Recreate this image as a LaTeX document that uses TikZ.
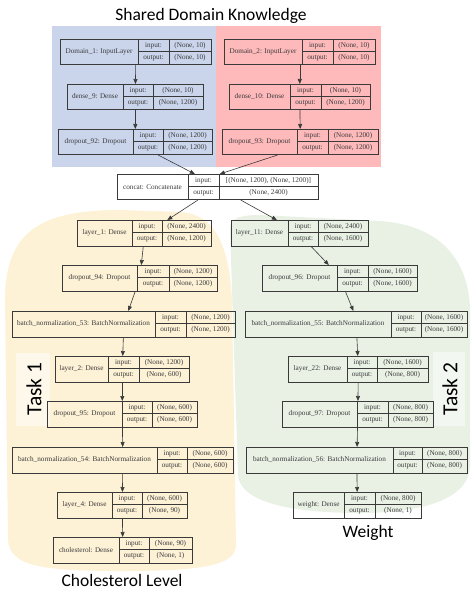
\documentclass[tikz,border=0pt]{standalone}
\usepackage{fontspec}
\setmainfont{Liberation Serif}
\newfontfamily\calib{Carlito}
\usetikzlibrary{arrows.meta}
\definecolor{ink}{HTML}{3A3A3A}
\definecolor{shblue}{HTML}{CAD5EC}
\definecolor{shred}{HTML}{FEB9BB}
\definecolor{tkyel}{HTML}{FDF1D6}
\definecolor{tkyel2}{HTML}{FEF8EB}
\definecolor{tkgrn}{HTML}{E9F1E5}
\definecolor{tkgrn2}{HTML}{F3F7F1}
\tikzset{
  rec/.style={draw=ink,line width=.6pt,minimum height=25.5pt,inner sep=0pt},
  sep/.style={draw=ink,line width=.6pt},
  cell/.style={font=\fontsize{7.2}{8}\selectfont,text=ink,inner sep=0pt},
  ar/.style={-{Triangle[length=5pt,width=4pt]},draw=ink,line width=.6pt},
  lbl/.style={font=\calib\fontsize{17.5}{20}\selectfont,text=black},
  task/.style={font=\calib\fontsize{21.5}{24}\selectfont,text=black,rotate=90},
}
% one keras layer record: id, left, split 1, split 2, right, top, name, input, output
\newcommand{\layerrec}[9]{%
  \node[rec,minimum width={(#5-#2)*1pt},anchor=north west] (#1) at (#2,#6) {};
  \draw[sep] (#3,#6) -- ++(0,25.5) (#4,#6) -- ++(0,25.5) (#3,#6+12.75) -- (#5,#6+12.75);
  \node[cell] (#1-n) at ({(#2+#3)/2},#6+12.75) {#7};
  \node[cell] (#1-i) at ({(#3+#4)/2},#6+6.4) {input:};
  \node[cell] (#1-o) at ({(#3+#4)/2},#6+19.1) {output:};
  \node[cell] (#1-iv) at ({(#4+#5)/2},#6+6.4) {#8};
  \node[cell] (#1-ov) at ({(#4+#5)/2},#6+19.1) {#9};
}

\begin{document}
\begin{tikzpicture}[x=1pt,y=-1pt]
  \useasboundingbox (0,0) rectangle (474,601);
  % shaded regions
  \fill[shblue] (52,26) rectangle (216,167);
  \fill[shred] (216,26) rectangle (381,167);
  \fill[tkyel] (5,300) .. controls (5,232) and (40,210) .. (120,210) -- (180,212)
    .. controls (215,214) and (229,245) .. (232,300) -- (236,545)
    .. controls (236,566) and (200,571) .. (122,571)
    .. controls (40,571) and (10,566) .. (8,540) -- cycle;
  \fill[tkgrn] (230,228) .. controls (231,218) and (240,215) .. (260,215) -- (380,221)
    .. controls (440,225) and (469,260) .. (470,310) -- (470,465)
    .. controls (470,500) and (420,513) .. (360,513)
    .. controls (290,513) and (240,502) .. (238,475) -- cycle;
  \fill[tkyel2] (16,353) rectangle (50,426);
  \fill[tkgrn2] (433,352) rectangle (465,426);

  % shared part
  \layerrec{d1}{60}{138}{169}{211}{39}{Domain\_1: InputLayer}{(None, 10)}{(None, 10)}
  \layerrec{dn9}{67}{123}{153}{203}{84}{dense\_9: Dense}{(None, 10)}{(None, 1200)}
  \layerrec{dp92}{58}{133}{163}{212}{129}{dropout\_92: Dropout}{(None, 1200)}{(None, 1200)}
  \layerrec{d2}{224}{302}{333}{375}{39}{Domain\_2: InputLayer}{(None, 10)}{(None, 10)}
  \layerrec{dn10}{229}{290}{321}{370}{84}{dense\_10: Dense}{(None, 10)}{(None, 1200)}
  \layerrec{dp93}{222}{297}{328}{378}{129}{dropout\_93: Dropout}{(None, 1200)}{(None, 1200)}
  \layerrec{cat}{117}{188}{219}{318}{174}{concat: Concatenate}{[(None, 1200), (None, 1200)]}{(None, 2400)}

  % task 1
  \layerrec{l1}{77}{132}{162}{211}{220}{layer\_1: Dense}{(None, 2400)}{(None, 1200)}
  \layerrec{dp94}{62}{137}{169}{217}{265}{dropout\_94: Dropout}{(None, 1200)}{(None, 1200)}
  \layerrec{bn53}{12}{155}{186}{235}{311}{batch\_normalization\_53: BatchNormalization}{(None, 1200)}{(None, 1200)}
  \layerrec{l2}{55}{108}{139}{189}{356}{layer\_2: Dense}{(None, 1200)}{(None, 600)}
  \layerrec{dp95}{47}{122}{152}{197}{401}{dropout\_95: Dropout}{(None, 600)}{(None, 600)}
  \layerrec{bn54}{12}{157}{187}{233}{447}{batch\_normalization\_54: BatchNormalization}{(None, 600)}{(None, 600)}
  \layerrec{l4}{57}{112}{142}{187}{492}{layer\_4: Dense}{(None, 600)}{(None, 90)}
  \layerrec{chol}{53}{119}{149}{192}{537}{cholesterol: Dense}{(None, 90)}{(None, 1)}

  % task 2
  \layerrec{l11}{231}{288}{318}{368}{220}{layer\_11: Dense}{(None, 2400)}{(None, 1600)}
  \layerrec{dp96}{262}{337}{368}{417}{265}{dropout\_96: Dropout}{(None, 1600)}{(None, 1600)}
  \layerrec{bn55}{245}{391}{421}{467}{311}{batch\_normalization\_55: BatchNormalization}{(None, 1600)}{(None, 1600)}
  \layerrec{l22}{288}{347}{377}{428}{356}{layer\_22: Dense}{(None, 1600)}{(None, 800)}
  \layerrec{dp97}{282}{357}{388}{433}{401}{dropout\_97: Dropout}{(None, 800)}{(None, 800)}
  \layerrec{bn56}{246}{393}{422}{467}{447}{batch\_normalization\_56: BatchNormalization}{(None, 800)}{(None, 800)}
  \layerrec{wt}{293}{344}{375}{421}{492}{weight: Dense}{(None, 800)}{(None, 1)}

  % connectors
  \draw[ar] (d1) -- (dn9);
  \draw[ar] (dn9) -- (dp92);
  \draw[ar] (d2) -- (dn10);
  \draw[ar] (dn10) -- (dp93);
  \draw[ar] ([xshift=23pt]dp92.south) -- ([xshift=-23pt]cat.north);
  \draw[ar] ([xshift=-23pt]dp93.south) -- ([xshift=2pt]cat.north);
  \draw[ar] ([xshift=-20pt]cat.south) -- ([xshift=23pt]l1.north);
  \draw[ar] ([xshift=23pt]cat.south) -- ([xshift=-23pt]l11.north);
  \draw[ar] ([xshift=-1pt]l1.south) -- ([xshift=1.5pt]dp94.north);
  \draw[ar] ([xshift=11pt]l11.south) -- ([xshift=-11pt]dp96.north);
  \draw[ar] ([xshift=-4.5pt]dp94.south) -- ([xshift=4.5pt]bn53.north);
  \draw[ar] ([xshift=5.5pt]dp96.south) -- ([xshift=-3pt]bn55.north);
  \foreach \a/\b in {bn53/l2,l2/dp95,dp95/bn54,bn54/l4,l4/chol,bn55/l22,l22/dp97,dp97/bn56,bn56/wt}
    \draw[ar] (\a) -- (\b);

  % labels
  \node[lbl] (title) at (211,16) {Shared Domain Knowledge};
  \node[lbl] (out1) at (122,580) {Cholesterol Level};
  \node[lbl] (out2) at (368,533) {Weight};
  \node[task] (t1) at (34,389) {Task 1};
  \node[task] (t2) at (450,389) {Task 2};
\end{tikzpicture}
\end{document}
